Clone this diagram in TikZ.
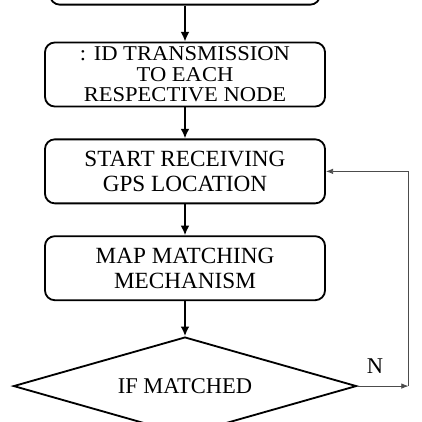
\documentclass[tikz,border=0pt]{standalone}
\usepackage{fontspec}
\setmainfont{Liberation Serif}
\newfontfamily\widefont[FakeStretch=1.07]{Liberation Serif}
\usetikzlibrary{shapes.geometric, arrows.meta, positioning}

\begin{document}
\begin{tikzpicture}[
  x=0.025cm, y=-0.025cm,
  node distance=0.775cm,
  box/.style={rectangle, rounded corners=7pt, draw=black, line width=1.3pt,
              fill=white, text=black, minimum width=7cm, minimum height=1.6cm,
              inner sep=0pt, align=center, font=\fontsize{16.5}{17.8}\selectfont},
  decision/.style={diamond, aspect=4, draw=black, line width=1.3pt, fill=white,
              minimum width=8.575cm, minimum height=2.45cm, inner sep=0pt,
              font=\fontsize{16}{17.8}\selectfont},
  lbl/.style={font=\fontsize{16}{17.8}\selectfont},
  arrow/.style={-{Latex[length=2.4mm, width=2.2mm]}, line width=1.3pt},
  loopback/.style={-{Latex[length=1.8mm, width=1.4mm]}, line width=0.6pt, draw=black!70},
]
  \clip (0,0) rectangle (422,422);
  \node[box, font=\widefont\fontsize{15}{14.6}\selectfont] (ids) at (185,74.5)
    {: ID TRANSMISSION\\TO EACH\\RESPECTIVE NODE};
  \node[box, minimum width=6.75cm, above=0.9cm of ids] (init) {};
  \node[box, below=of ids]  (gps)  {START RECEIVING\\GPS LOCATION};
  \node[box, below=of gps]  (mapm) {MAP MATCHING\\MECHANISM};
  \node[decision, below=0.875cm of mapm] (check) {IF MATCHED};
  \coordinate[right=1.275cm of check.east] (turn);
  \node[lbl] (nmark) at (375,366) {N};

  \draw[arrow] (init) -- (ids);
  \draw[arrow] (ids)  -- (gps);
  \draw[arrow] (gps)  -- (mapm);
  \draw[arrow] (mapm) -- (check);
  \draw[loopback] (check.east) -- (turn);
  \draw[loopback] (turn) |- (gps.east);
\end{tikzpicture}
\end{document}
